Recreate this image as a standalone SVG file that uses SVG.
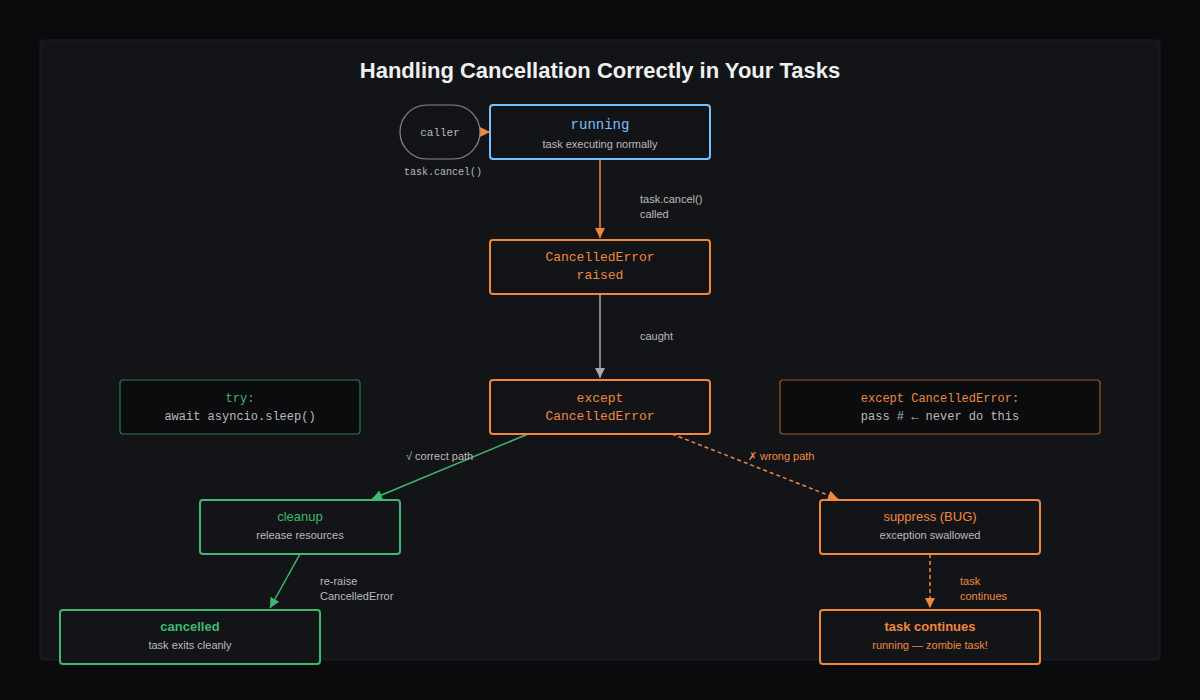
<svg xmlns="http://www.w3.org/2000/svg" width="1200" height="700" viewBox="0 0 1200 700">
<style>
.m{font-family:"Liberation Mono","DejaVu Sans Mono",monospace}
.s{font-family:"Liberation Sans",Arial,sans-serif}
.lbl{font-family:"Liberation Sans",Arial,sans-serif;font-size:11px}
.box{fill:#131417;stroke-width:2}
</style>
<defs>
<marker id="ao2" viewBox="0 0 10 10" refX="10" refY="5" markerWidth="10" markerHeight="15" orient="auto" markerUnits="userSpaceOnUse"><path d="M0,0L10,5L0,10z" fill="#f0883e"/></marker>
<marker id="ag" viewBox="0 0 10 10" refX="10" refY="5" markerWidth="10" markerHeight="15" orient="auto" markerUnits="userSpaceOnUse"><path d="M0,0L10,5L0,10z" fill="#aaaaaa"/></marker>
<marker id="agr" viewBox="0 0 10 10" refX="10" refY="5" markerWidth="10" markerHeight="15" orient="auto" markerUnits="userSpaceOnUse"><path d="M0,0L10,5L0,10z" fill="#3fb96f"/></marker>
</defs>
<rect width="1200" height="700" fill="#0a0b0d"/>
<rect x="40" y="40" width="1120" height="620" rx="4" fill="#131417" stroke="#1e2024"/>
<text x="600" y="78" text-anchor="middle" class="s" font-size="22" font-weight="bold" fill="#f0f0f0">Handling Cancellation Correctly in Your Tasks</text>
<g id="connectors" fill="none" stroke-width="1.5">
<path d="M480,132H490" stroke="#f0883e" marker-end="url(#ao2)"/>
<path d="M600,160V238" stroke="#f0883e" marker-end="url(#ao2)"/>
<path d="M600,295V378" stroke="#aaaaaa" marker-end="url(#ag)"/>
<path d="M528,434L372,499" stroke="#3fb96f" marker-end="url(#agr)"/>
<path d="M672,434L838,499" stroke="#f0883e" stroke-dasharray="4,3" marker-end="url(#ao2)"/>
<path d="M300,554L270,608" stroke="#3fb96f" marker-end="url(#agr)"/>
<path d="M930,554V608" stroke="#f0883e" stroke-dasharray="4,3" marker-end="url(#ao2)"/>
</g>
<g id="labels" class="lbl">
<text x="640" y="203" fill="#bbbbbb">task.cancel()</text>
<text x="640" y="218" fill="#bbbbbb">called</text>
<text x="640" y="340" fill="#bbbbbb">caught</text>
<text x="406" y="460" fill="#bbbbbb">√ correct path</text>
<text x="748" y="460" fill="#f0883e">✗ wrong path</text>
<text x="320" y="585" fill="#bbbbbb">re-raise</text>
<text x="320" y="600" fill="#bbbbbb">CancelledError</text>
<text x="960" y="585" fill="#f0883e">task</text>
<text x="960" y="600" fill="#f0883e">continues</text>
</g>
<g id="caller">
<rect x="400" y="105" width="80" height="54" rx="27" fill="#131417" stroke="#888" stroke-width="1.2"/>
<text x="440" y="136" text-anchor="middle" class="m" font-size="11" fill="#bbbbbb">caller</text>
<text x="443" y="175" text-anchor="middle" class="m" font-size="10" fill="#bbbbbb">task.cancel()</text>
</g>
<g id="running">
<rect x="490" y="105" width="220" height="54" rx="3" class="box" stroke="#79c0ff"/>
<text x="600" y="129" text-anchor="middle" class="m" font-size="14" fill="#79c0ff">running</text>
<text x="600" y="148" text-anchor="middle" class="s" font-size="11" fill="#bbbbbb">task executing normally</text>
</g>
<g id="raised">
<rect x="490" y="240" width="220" height="54" rx="3" class="box" stroke="#f0883e"/>
<text x="600" y="261" text-anchor="middle" class="m" font-size="13" fill="#f0883e">CancelledError</text>
<text x="600" y="279" text-anchor="middle" class="m" font-size="13" fill="#f0883e">raised</text>
</g>
<g id="except">
<rect x="490" y="380" width="220" height="54" rx="3" class="box" stroke="#f0883e"/>
<text x="600" y="402" text-anchor="middle" class="m" font-size="13" fill="#f0883e">except</text>
<text x="600" y="420" text-anchor="middle" class="m" font-size="13" fill="#f0883e">CancelledError</text>
</g>
<g id="try">
<rect x="120" y="380" width="240" height="54" rx="3" fill="#0b0c0e" stroke="#2a7a4a" stroke-width="1.2"/>
<text x="240" y="402" text-anchor="middle" class="m" font-size="12" fill="#3fb96f">try:</text>
<text x="240" y="420" text-anchor="middle" class="m" font-size="12" fill="#bbbbbb">await asyncio.sleep()</text>
</g>
<g id="bad">
<rect x="780" y="380" width="320" height="54" rx="3" fill="#0b0c0e" stroke="#9a5a25" stroke-width="1.2"/>
<text x="940" y="402" text-anchor="middle" class="m" font-size="12" fill="#f0883e">except CancelledError:</text>
<text x="940" y="420" text-anchor="middle" class="m" font-size="12" fill="#bbbbbb">pass # ← never do this</text>
</g>
<g id="cleanup">
<rect x="200" y="500" width="200" height="54" rx="3" class="box" stroke="#3fb96f"/>
<text x="300" y="521" text-anchor="middle" class="s" font-size="13" fill="#3fb96f">cleanup</text>
<text x="300" y="539" text-anchor="middle" class="s" font-size="11" fill="#bbbbbb">release resources</text>
</g>
<g id="suppress">
<rect x="820" y="500" width="220" height="54" rx="3" class="box" stroke="#f0883e"/>
<text x="930" y="521" text-anchor="middle" class="s" font-size="13" fill="#f0883e">suppress (BUG)</text>
<text x="930" y="539" text-anchor="middle" class="s" font-size="11" fill="#bbbbbb">exception swallowed</text>
</g>
<g id="cancelled">
<rect x="60" y="610" width="260" height="54" rx="3" class="box" stroke="#3fb96f"/>
<text x="190" y="631" text-anchor="middle" class="s" font-size="13" font-weight="bold" fill="#3fb96f">cancelled</text>
<text x="190" y="649" text-anchor="middle" class="s" font-size="11" fill="#bbbbbb">task exits cleanly</text>
</g>
<g id="continues">
<rect x="820" y="610" width="220" height="54" rx="3" class="box" stroke="#f0883e" stroke-width="2.5"/>
<text x="930" y="631" text-anchor="middle" class="s" font-size="13" font-weight="bold" fill="#f0883e">task continues</text>
<text x="930" y="649" text-anchor="middle" class="s" font-size="11" fill="#f0883e">running — zombie task!</text>
</g>
</svg>
